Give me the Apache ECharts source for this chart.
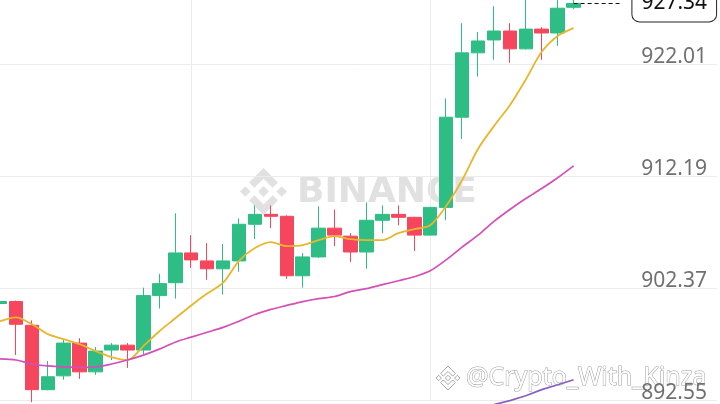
<!DOCTYPE html>
<html>
<head>
<meta charset="utf-8">
<script src="https://cdn.jsdelivr.net/npm/echarts@6/dist/echarts.min.js"></script>
<style>
  html, body { margin: 0; padding: 0; background: #fff; }
  #chart { width: 720px; height: 404px; }
</style>
</head>
<body>
<div id="chart"></div>
<script>
// slots on the time axis (last ones are empty space right of the last candle)
var categories = ["1", "2", "3", "4", "5", "6", "7", "8", "9", "10",
  "11", "12", "13", "14", "15", "16", "17", "18", "19", "20",
  "21", "22", "23", "24", "25", "26", "27", "28", "29", "30",
  "31", "32", "33", "34", "35", "36", "37", "38", "39", "40",
  "41", "42", "43", "44", "45", "46"];

// [open, close, low, high]
var candles = [
  [901.05, 901.22, 900.70, 901.48],
  [901.22, 899.23, 896.54, 901.31],
  [899.14, 893.50, 892.40, 899.57],
  [893.50, 894.63, 893.45, 896.01],
  [894.71, 897.58, 894.37, 897.84],
  [897.58, 895.06, 894.45, 898.01],
  [895.06, 896.88, 894.80, 897.23],
  [896.97, 897.40, 896.10, 897.58],
  [897.40, 896.97, 895.41, 897.58],
  [896.97, 901.74, 896.62, 902.44],
  [901.74, 902.79, 900.61, 903.65],
  [902.87, 905.48, 901.48, 908.95],
  [905.48, 904.87, 904.17, 907.04],
  [904.78, 904.09, 903.13, 906.34],
  [904.09, 904.78, 901.83, 906.26],
  [904.78, 907.99, 903.83, 908.51],
  [907.99, 908.86, 906.69, 909.64],
  [908.86, 908.69, 907.65, 909.64],
  [908.69, 903.48, 903.22, 908.77],
  [903.48, 905.13, 902.44, 905.48],
  [905.13, 907.65, 905.04, 909.56],
  [907.65, 907.04, 906.08, 909.29],
  [906.95, 905.56, 904.69, 907.21],
  [905.56, 908.34, 904.09, 909.90],
  [908.34, 908.86, 907.21, 909.64],
  [908.86, 908.60, 907.91, 909.64],
  [908.60, 907.04, 905.65, 908.65],
  [907.04, 909.47, 907.00, 909.50],
  [909.47, 917.37, 908.34, 919.02],
  [917.37, 923.01, 915.46, 925.61],
  [923.01, 924.05, 920.93, 924.83],
  [924.14, 924.92, 922.40, 927.09],
  [924.92, 923.36, 922.14, 925.61],
  [923.36, 925.09, 923.30, 927.80],
  [925.09, 924.75, 922.40, 925.27],
  [924.75, 926.92, 923.62, 927.80],
  [927.00, 927.34, 926.83, 927.80]
];

var ma7 = [899.49, 899.83, 899.23, 898.36, 897.92, 897.49, 896.88, 896.36, 896.10, 897.32,
  898.62, 899.75, 900.88, 901.92, 902.87, 904.78, 905.91, 906.43, 906.08, 906.17,
  906.60, 906.95, 906.69, 906.60, 906.60, 907.21, 907.56, 907.91, 909.60, 911.85,
  914.59, 916.59, 918.41, 920.67, 923.10, 924.49, 925.18];

var ma25 = [896.19, 896.10, 895.75, 895.58, 895.49, 895.45, 895.49, 895.75, 896.10, 896.53,
  897.05, 897.66, 898.10, 898.53, 898.96, 899.49, 900.09, 900.53, 900.88, 901.22,
  901.48, 901.66, 902.09, 902.35, 902.70, 903.04, 903.39, 903.91, 904.87, 905.99,
  907.04, 908.25, 909.29, 910.25, 911.12, 912.07, 913.11];

var ma99 = ["-", "-", "-", "-", "-", "-", "-", "-", "-", "-",
  "-", "-", "-", "-", "-", "-", "-", "-", "-", "-",
  "-", "-", "-", "-", "-", "-", "-", "-", "-", "-",
  "-", 892.19, 892.54, 892.97, 893.50, 893.93, 894.37];

var yLabels = ["892.55", "902.37", "912.19", "922.01"];
var lastPrice = 927.34;

var UP = "#2ebd85";
var DOWN = "#f6465d";

// binance diamond logo, in a 126.6 x 126.6 box
var LOGO_PARTS = [
  [[38.73, 53.2], [63.3, 28.64], [87.89, 53.22], [102.19, 38.92], [63.3, 0], [24.43, 38.88]],
  [[0, 63.31], [14.3, 49.01], [28.6, 63.31], [14.3, 77.61]],
  [[38.73, 73.41], [63.3, 98], [87.89, 73.41], [102.2, 87.7], [63.3, 126.61], [24.42, 87.74]],
  [[98, 63.31], [112.3, 49.01], [126.6, 63.31], [112.3, 77.61]],
  [[77.83, 63.3], [63.3, 48.76], [48.77, 63.29], [63.3, 77.85]]
];

function logo(x, y, size, style) {
  var s = size / 126.6;
  return {
    type: "group",
    x: x,
    y: y,
    scaleX: s,
    scaleY: s,
    z: -1,
    children: LOGO_PARTS.map(function (pts) {
      return { type: "polygon", z: -1, shape: { points: pts }, style: style };
    })
  };
}

var myChart = echarts.init(document.getElementById("chart"));

myChart.setOption({
  animation: false,
  backgroundColor: "#fff",
  grid: { left: -3, right: 3, top: 0, bottom: 2 },
  xAxis: {
    type: "category",
    data: categories,
    boundaryGap: false,
    axisLine: { show: false },
    axisTick: { show: false },
    axisLabel: { show: false },
    splitLine: {
      show: true,
      interval: function (index) {
        return index === 12 || index === 27;
      },
      lineStyle: { color: "#ececec", width: 1 }
    }
  },
  yAxis: {
    type: "value",
    position: "right",
    min: 892.55,
    max: 927.64,
    interval: 9.82,
    axisLine: { show: false },
    axisTick: { show: false },
    splitLine: { show: true, showMaxLine: false, lineStyle: { color: "#ececec", width: 1 } },
    axisLabel: {
      inside: true,
      margin: 10,
      verticalAlign: "bottom",
      lineHeight: 14,
      color: "#707070",
      fontSize: 21,
      fontFamily: "Noto Sans",
      showMaxLabel: false,
      formatter: function (v) {
        for (var i = 0; i < yLabels.length; i++) {
          if (Math.abs(parseFloat(yLabels[i]) - v) < 0.01) return yLabels[i];
        }
        return "";
      }
    }
  },
  graphic: [
    logo(240, 168, 47, { fill: "#e1e1e1" }),
    {
      type: "text",
      z: -1,
      x: 297,
      y: 193,
      style: {
        text: "BINANCE",
        font: "bold 36px 'DejaVu Sans'",
        fill: "#e1e1e1",
        verticalAlign: "middle"
      }
    },
    logo(436, 366, 24, { fill: "#fff", stroke: "#a8a8a8", lineWidth: 1, strokeNoScale: true }),
    {
      type: "text",
      z: -1,
      x: 466,
      y: 378,
      style: {
        text: "@Crypto_With_Kinza",
        font: "25px 'Noto Sans'",
        fill: "#fff",
        stroke: "#9c9c9c",
        lineWidth: 1,
        verticalAlign: "middle"
      }
    }
  ],
  series: [
    {
      name: "price",
      type: "candlestick",
      data: candles,
      barWidth: 14,
      clip: false,
      itemStyle: {
        color: UP,
        color0: DOWN,
        borderColor: UP,
        borderColor0: DOWN,
        borderWidth: 1
      },
      markLine: {
        silent: true,
        symbol: ["none", "none"],
        lineStyle: { color: "#111", type: [4, 3], width: 1 },
        label: {
          show: true,
          position: "end",
          distance: 11,
          formatter: lastPrice.toFixed(2),
          color: "#111",
          fontSize: 21,
          fontFamily: "Noto Sans",
          lineHeight: 22,
          backgroundColor: "#fff",
          borderColor: "#222",
          borderWidth: 1,
          borderRadius: 7,
          padding: [10, 9, 4, 9]
        },
        data: [
          [
            { coord: [36, lastPrice] },
            { coord: [39, lastPrice] }
          ]
        ]
      }
    },
    {
      name: "MA7",
      type: "line",
      data: ma7,
      symbol: "none",
      smooth: 0.3,
      clip: false,
      lineStyle: { color: "#e6b72c", width: 1.8 }
    },
    {
      name: "MA25",
      type: "line",
      data: ma25,
      symbol: "none",
      smooth: 0.3,
      clip: false,
      lineStyle: { color: "#d44fb8", width: 1.7 }
    },
    {
      name: "MA99",
      type: "line",
      data: ma99,
      symbol: "none",
      clip: false,
      lineStyle: { color: "#8a5fc2", width: 1.7 }
    }
  ]
});
</script>
</body>
</html>
